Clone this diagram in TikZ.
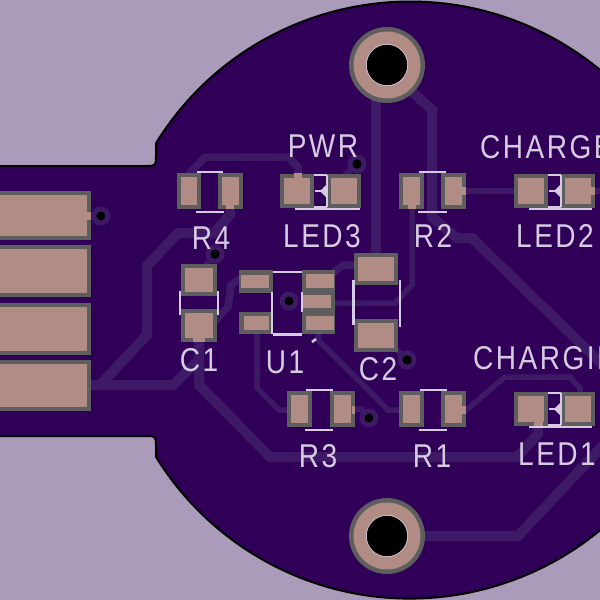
\documentclass[tikz,border=0pt]{standalone}
\usepackage{fontspec}
\newfontfamily\silkfont[FakeStretch=0.85,LetterSpace=7.5]{Liberation Sans}
\definecolor{bgc}{HTML}{AB9BBB}
\definecolor{boardc}{HTML}{300058}
\definecolor{trackc}{HTML}{3E1A66}
\definecolor{maskc}{HTML}{5E5E5E}
\definecolor{copperc}{HTML}{B08C84}
\definecolor{silkc}{HTML}{D6CCE2}
\newcommand\smdpad[4]{\fill[maskc] (#1,#2) rectangle (#3,#4); \fill[copperc] ({#1+4},{#2+4}) rectangle ({#3-4},{#4-4});}
\newcommand\viahole[2]{\fill[trackc] (#1,#2) circle [radius=9.5]; \fill[black] (#1,#2) circle [radius=4.5];}
\newcommand\mounthole[2]{\fill[maskc] (#1,#2) circle [radius=38]; \fill[copperc] (#1,#2) circle [radius=33.5]; \fill[silkc] (#1,#2) circle [radius=21]; \fill[black] (#1,#2) circle [radius=20.2];}
\newcommand\diodemark[2]{\draw[silkthin] (#1-13,#2+16)--(#1,#2+16) (#1-13,#2-16)--(#1,#2-16) (#1,#2-16)--(#1,#2+16);
  \draw[silkline] (#1-12,#2)--(#1-6,#2); \fill[silkc] (#1-7,#2)--(#1,#2-7)--(#1,#2+7)--cycle;}
\tikzset{
  trackthick/.style={draw=trackc,line width=10pt,line join=miter},
  trackmid/.style={draw=trackc,line width=7.5pt,line join=miter},
  trackthin/.style={draw=trackc,line width=5.5pt,line join=miter},
  silkline/.style={draw=silkc,line width=2.5pt},
  silkthin/.style={draw=silkc,line width=1.2pt},
  silktext/.style={text=silkc,inner sep=0pt,font=\silkfont\fontsize{33}{33}\selectfont,anchor=center},
  silkleft/.style={silktext,anchor=west},
}
\begin{document}
\begin{tikzpicture}[x=1pt,y=-1pt]
\clip (0,0) rectangle (600,600);
\fill[bgc] (0,0) rectangle (600,600);
% board
\fill[boardc,draw=black,line width=2pt] (0,166) -- (145,166) .. controls (156,166) .. (156,155) -- (156,143.2) arc [start angle=211.7,end angle=508.3,radius=298.5] -- (156,447) .. controls (156,436) .. (145,436) -- (0,436) -- (-5,436) -- (-5,166) -- cycle;
% tracks
\draw[trackmid] (188,175) -- (205,157) -- (288,157) -- (298,167) -- (298,176);
\draw[trackthick] (230,205) -- (230,215) -- (214,233) -- (178,233) -- (147,266) -- (147,335) -- (100,385);
\draw[trackthick] (91,385) -- (173,385) -- (197,362);
\draw[trackthick] (199,340) -- (199,385) -- (270,457) -- (517,457) -- (538,434) -- (538,425);
\draw[trackthin] (257,332) -- (257,388) -- (279,410) -- (290,410);
\draw[trackmid] (243,277) -- (231,285) -- (228,307) -- (212,324) -- (205,326);
\draw[trackmid] (358,265) -- (343,265) -- (316,287);
\draw[trackthick] (376,95) -- (376,256);
\draw[trackthick] (410,90) -- (432,110) -- (432,217) -- (457,238) -- (472,238) -- (610,372);
\draw[trackthin] (412,207) -- (412,285) -- (395,303) -- (330,303);
\draw[trackthin] (466,191) -- (516,191);
\draw[trackthin] (594,191) -- (602,191);
\draw[trackthin] (318,332) -- (318,340) -- (388,410) -- (401,410);
\draw[trackthin] (464,412) -- (505,377) -- (570,377) -- (580,388) -- (580,394);
\draw[trackthick] (415,536) -- (518,536) -- (610,438);
\draw[trackthin] (353,410) -- (361,409) -- (369,418);
\draw[trackthin] (88,216) -- (101,216);
\draw[trackthin] (205,266) -- (215,254);
\draw[trackthin] (344,176) -- (357,164);
\draw[trackthin] (392,345) -- (407,360);
% vias
\viahole{101}{216}
\viahole{215}{254}
\viahole{357}{164}
\viahole{289}{301}
\viahole{407}{360}
\viahole{369}{418}
% mounting holes
\mounthole{387}{65}
\mounthole{387}{536}
% edge connector
\smdpad{-10}{191}{91}{240}
\smdpad{-10}{245}{91}{297}
\smdpad{-10}{303}{91}{355}
\smdpad{-10}{360}{91}{411}
% R4
\smdpad{177}{173}{201}{209} \smdpad{218}{173}{243}{209}
% R2
\smdpad{399}{173}{424}{209} \smdpad{441}{173}{466}{209}
% R1
\smdpad{399}{391}{424}{427} \smdpad{441}{391}{466}{427}
% R3
\smdpad{287}{391}{312}{427} \smdpad{330}{391}{355}{427}
% LEDs
\smdpad{280}{174}{314}{208} \smdpad{327}{174}{361}{208}
\smdpad{514}{174}{548}{208} \smdpad{561}{174}{595}{208}
\smdpad{514}{392}{548}{426} \smdpad{561}{392}{595}{426}
% C1
\smdpad{181}{264}{217}{296} \smdpad{181}{309}{217}{342}
% C2
\smdpad{354}{253}{398}{285} \smdpad{354}{319}{398}{352}
% U1
\fill[maskc] (239,270) rectangle (273,293);
\fill[maskc] (239,312) rectangle (273,334);
\fill[maskc] (302,270) rectangle (335,334);
\fill[copperc] (241,275) rectangle (269,288);
\fill[copperc] (244,316) rectangle (269,330);
\fill[copperc] (306,274) rectangle (334,288);
\fill[copperc] (303,295) rectangle (331,308);
\fill[copperc] (306,316) rectangle (334,330);
% copper joints where tracks leave the pads
\fill[copperc] (226,204) rectangle (234,209);
\fill[copperc] (408,204) rectangle (416,209);
\fill[copperc] (87,212) rectangle (91,220);
\fill[copperc] (462,187) rectangle (466,195);
\fill[copperc] (591,187) rectangle (595,195);
\fill[copperc] (193,337) rectangle (205,342);
\fill[copperc] (534,421) rectangle (543,426);
\fill[copperc] (352,406) rectangle (355,414);
\fill[copperc] (462,406) rectangle (466,414);
\fill[copperc] (294,173) rectangle (302,178);
% silk lines
\draw[silkline] (197,172) -- (223,172) (196,212) -- (224,212);
\draw[silkline] (419,172) -- (446,172) (418,212) -- (447,212);
\draw[silkline] (420,390) -- (447,390) (419,430) -- (447,430);
\draw[silkline] (306,390) -- (333,390) (305,430) -- (333,430);
\draw[silkline] (180,291) -- (180,315) (218,291) -- (218,315);
\draw[silkline] (353.5,280) -- (353.5,325) (400,280) -- (400,327);
\draw[silkline] (273,272) -- (302,272) (273,334.5) -- (302,334.5);
\draw[silkline] (272,292) -- (272,312);
\draw[silkthin] (272,312) -- (272,334) (302,292) -- (302,312);
\draw[silkline] (312,342) -- (316,339);
\draw[silkline] (295,209) -- (360,209);
\draw[silkline] (529,209) -- (592,209);
\draw[silkline] (529,427) -- (592,427);
\diodemark{327}{191}
\diodemark{561}{191}
\diodemark{561}{409}
% labels
\node[silktext] (lblPWR) at (323,146) {PWR};
\node[silkleft] (lblCHARGE) at (480,147) {CHARGE};
\node[silkleft] (lblCHARGING) at (473,358) {CHARGING};
\node[silktext] (lblR4) at (211,238) {R4};
\node[silktext] (lblLED3) at (322,236) {LED3};
\node[silktext] (lblR2) at (433,236) {R2};
\node[silktext] (lblLED2) at (555,236) {LED2};
\node[silktext] (lblC1) at (199,360) {C1};
\node[silktext] (lblU1) at (285,362) {U1};
\node[silktext] (lblC2) at (378,369) {C2};
\node[silktext] (lblR3) at (318,456) {R3};
\node[silktext] (lblR1) at (432,456) {R1};
\node[silktext] (lblLED1) at (557,454) {LED1};
\fill[black] (215,254) circle [radius=4.5];
\fill[black] (357,164) circle [radius=4.5];
\fill[black] (407,360) circle [radius=4.5];
\end{tikzpicture}
\end{document}
